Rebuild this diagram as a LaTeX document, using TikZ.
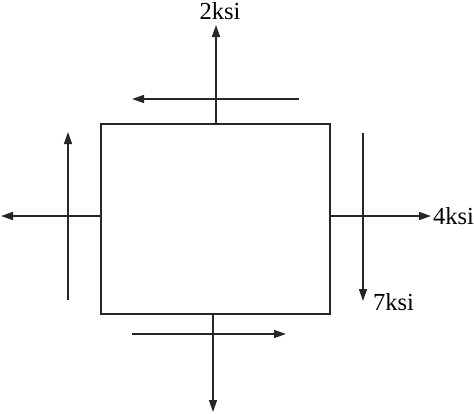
\documentclass[tikz,border=0pt]{standalone}
\usepackage{fontspec}
\setmainfont{Liberation Serif}
\usetikzlibrary{arrows.meta}
\begin{document}
\begin{tikzpicture}[x=1pt,y=-1pt,
  line/.style={line width=1.5pt, draw=black!85},
  arr/.style={line, -{Triangle[length=12pt,width=8pt]}},
  lbl/.style={font=\fontsize{24.5}{28}\selectfont, inner sep=0pt}]
\useasboundingbox (0,0) rectangle (474,413);
\node[draw=black!85, line width=1.8pt, minimum width=229pt, minimum height=190pt, inner sep=0pt, anchor=north west] (sq) at (100,123) {};
% normal stresses
\coordinate (t0) at (216,123);
\coordinate (t1) at (216,25);
\draw[arr] (t0) -- (t1);
\node[lbl, anchor=base] (l2) at (220,19) {2ksi};
\coordinate (b0) at (213,313);
\coordinate (b1) at (213,412);
\draw[arr] (b0) -- (b1);
\coordinate (r0) at (329,216);
\coordinate (r1) at (431,216);
\draw[arr] (r0) -- (r1);
\node[lbl, anchor=base west] (l4) at (433,224) {4ksi};
\coordinate (le0) at (100,216);
\coordinate (le1) at (1,216);
\draw[arr] (le0) -- (le1);
% shear stresses
\coordinate (st0) at (299,99);
\coordinate (st1) at (132,99);
\draw[arr] (st0) -- (st1);
\coordinate (sb0) at (132,334);
\coordinate (sb1) at (286,334);
\draw[arr] (sb0) -- (sb1);
\coordinate (sr0) at (363,133);
\coordinate (sr1) at (363,301);
\draw[arr] (sr0) -- (sr1);
\node[lbl, anchor=base west] (l7) at (373,310) {7ksi};
\coordinate (sl0) at (68,300);
\coordinate (sl1) at (68,132);
\draw[arr] (sl0) -- (sl1);
\end{tikzpicture}
\end{document}
